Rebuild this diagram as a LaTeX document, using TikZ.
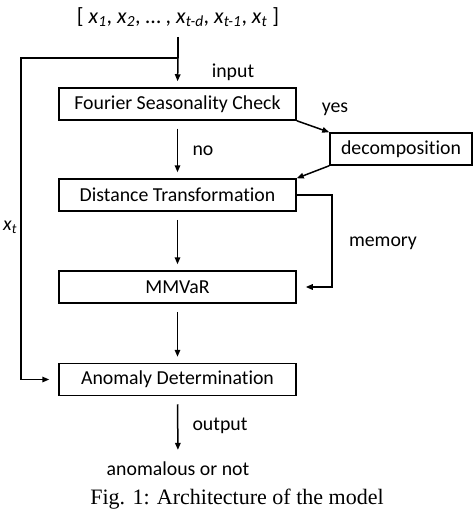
\documentclass[tikz,border=0pt]{standalone}
\usepackage{fontspec}
\setmainfont{Carlito}[Ligatures=NoCommon]
\newfontfamily\capfont{Liberation Serif}
\usetikzlibrary{arrows.meta,calc}
\begin{document}
\begin{tikzpicture}[x=1pt,y=-1pt,
  box/.style={draw,line width=1.5pt,minimum width=237pt,minimum height=32pt,inner sep=0pt,font=\fontsize{19.8}{22}\selectfont},
  lbl/.style={font=\fontsize{19.8}{22}\selectfont,inner sep=0pt},
  arr/.style={line width=1.5pt,-{Triangle[length=7pt,width=5.5pt]}},
  ln/.style={line width=1.5pt}]
\useasboundingbox[fill=white] (0,0) rectangle (474,513);
\node[font=\fontsize{22}{26}\selectfont,inner sep=0pt] (src) at (178,17) {[ \textit{x}\textsubscript{\textit{1}}, \textit{x}\textsubscript{\textit{2}}, … , \textit{x}\textsubscript{\textit{t-d}}, \textit{x}\textsubscript{\textit{t-1}}, \textit{x}\textsubscript{\textit{t}} ]};
\node[box] (f) at (177.5,104) {Fourier Seasonality Check};
\node[box,minimum width=142pt] (dec) at (401,149) {decomposition};
\node[box] (dt) at (177.5,195) {Distance Transformation};
\node[box] (mm) at (177.5,287) {MMVaR};
\node[box] (ad) at (177.5,379.5) {Anomaly Determination};
\node[lbl] (out) at (178,469) {anomalous or not};
\node[lbl] (inl) at (233,72) {input};
\node[lbl] (yes) at (335,109) {yes};
\node[lbl] (no) at (203,151) {no};
\node[lbl] (mem) at (383,243) {memory};
\node[lbl] (outl) at (220,426) {output};
\node[lbl] (xt) at (10,227) {\textit{x}\textsubscript{\textit{t}}};
\node[inner sep=0pt,font=\capfont\fontsize{22}{26}\selectfont] (cap) at (237,499) {Fig. 1: Architecture of the model};
\coordinate (j) at (178,58);
\draw[ln] ([yshift=-10pt]src.south) -- (j);
\draw[arr,shorten >=6pt] (j) -- (f.north);
\draw[arr,shorten >=9pt] (j) -- (21,58) |- (ad.west);
\draw[arr,shorten <=8pt,shorten >=6pt] (f.south) -- (dt.north);
\draw[arr] (f.south east) -- (dec.north west);
\draw[arr] (dec.south west) -- (dt.north east);
\draw[arr,shorten <=8pt,shorten >=6pt] (dt.south) -- (mm.north);
\draw[arr,shorten <=8pt,shorten >=6pt] (mm.south) -- (ad.north);
\draw[arr,shorten <=8pt,shorten >=12pt] (ad.south) -- (out.north);
\draw[arr,shorten >=9pt] (dt.east) -- (332,195) |- (mm.east);
\end{tikzpicture}
\end{document}
